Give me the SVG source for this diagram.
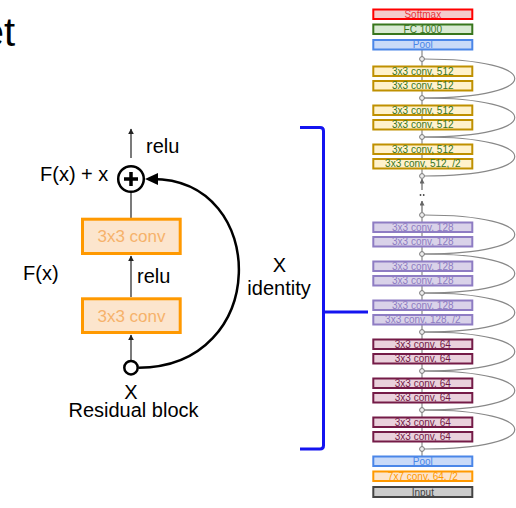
<svg xmlns="http://www.w3.org/2000/svg" width="516" height="508" viewBox="0 0 516 508">
<defs>
<marker id="ah" viewBox="0 0 10 10" refX="9" refY="5" markerWidth="6" markerHeight="6" orient="auto" markerUnits="userSpaceOnUse"><path d="M0,0 L10,5 L0,10 z" fill="#222"/></marker>
<marker id="ahg" viewBox="0 0 10 10" refX="9" refY="5" markerWidth="5" markerHeight="5" orient="auto" markerUnits="userSpaceOnUse"><path d="M0,0 L10,5 L0,10 z" fill="#666"/></marker>
<style>
text{font-family:"Liberation Sans",Arial,sans-serif}
.lbl{font-size:20px;fill:#000}
.cv{fill:#fce5cd;stroke:#ff9900;stroke-width:3}
.cvt{font-size:17px;fill:#f6b26b;text-anchor:middle}
.ln{stroke:#222;stroke-width:1.2;fill:none}
.bx{stroke-width:2}
.bt{font-size:10px;text-anchor:middle}
.sk{fill:none;stroke:#888;stroke-width:1.2}
.nd{fill:#eee;stroke:#777;stroke-width:1}
.c512{fill:#fff2cc;stroke:#bf9000}
.t512{fill:#38761d}
.c128{fill:#d9d2e9;stroke:#8e7cc3}
.t128{fill:#8e7cc3}
.c64{fill:#ead1dc;stroke:#741b47}
.t64{fill:#741b47}
.cpool{fill:#c9daf8;stroke:#4a86e8}
.tpool{fill:#4a86e8}
</style>
</defs>
<rect width="516" height="508" fill="#fff"/>
<text x="15" y="45.5" font-size="40" text-anchor="end" fill="#000">et</text>

<g id="connectors">
<line class="ln" x1="131" y1="158" x2="131" y2="129" marker-end="url(#ah)"/>
<line class="ln" x1="131" y1="192" x2="131" y2="218"/>
<line class="ln" x1="131" y1="297" x2="131" y2="256" marker-end="url(#ah)"/>
<line class="ln" x1="131" y1="360" x2="131" y2="335" marker-end="url(#ah)"/>
<path d="M138.5,367.7 C270,367.7 270,179 152,179" fill="none" stroke="#000" stroke-width="2.5"/>
<polygon points="145,179 158,173 158,185" fill="#000"/>
<path d="M300,127.5 L320,127.5 Q323.5,127.5 323.5,131 L323.5,445.5 Q323.5,449 320,449 L300,449 M323.5,312 L368,312" fill="none" stroke="#1414f0" stroke-width="3"/>
<line x1="422" y1="50" x2="422" y2="176" stroke="#888" stroke-width="1.2"/>
<line x1="422" y1="215" x2="422" y2="456" stroke="#888" stroke-width="1.2"/>
<line x1="422" y1="190" x2="422" y2="179" stroke="#666" stroke-width="1.2" marker-end="url(#ahg)"/>
<line x1="422" y1="212.5" x2="422" y2="201" stroke="#666" stroke-width="1.2" marker-end="url(#ahg)"/>
<circle cx="420.5" cy="195" r="0.9" fill="#444"/>
<circle cx="423.7" cy="195" r="0.9" fill="#444"/>
<path class="sk" d="M424,59 C545,59 545,98 424,98"/>
<path class="sk" d="M424,98 C545,98 545,137 424,137"/>
<path class="sk" d="M424,137 C545,137 545,176 424,176"/>
<path class="sk" d="M424,215 C545,215 545,254 424,254"/>
<path class="sk" d="M424,254 C545,254 545,293 424,293"/>
<path class="sk" d="M424,293 C545,293 545,332 424,332"/>
<path class="sk" d="M424,332 C545,332 545,371 424,371"/>
<path class="sk" d="M424,371 C545,371 545,410 424,410"/>
<path class="sk" d="M424,410 C545,410 545,449 424,449"/>
</g>

<g id="residual-block">
<g id="plus"><circle cx="131" cy="179" r="12.8" fill="#fff" stroke="#000" stroke-width="2.5"/><path d="M124,179 H138 M131,172 V186" stroke="#000" stroke-width="3.5"/></g>
<g id="conv1"><rect class="cv" x="82.5" y="219.2" width="97.7" height="34.3"/><text class="cvt" x="131.5" y="242">3x3 conv</text></g>
<g id="conv2"><rect class="cv" x="82.5" y="298.8" width="97.7" height="33.7"/><text class="cvt" x="131.5" y="321.5">3x3 conv</text></g>
<g id="input-x"><circle cx="131" cy="367.7" r="6.7" fill="#fff" stroke="#000" stroke-width="2.5"/></g>
<text class="lbl" x="146" y="153">relu</text>
<text class="lbl" x="40" y="181">F(x) + x</text>
<text class="lbl" x="23" y="280">F(x)</text>
<text class="lbl" x="137" y="283">relu</text>
<text class="lbl" x="131" y="399" text-anchor="middle" font-size="18">X</text>
<text class="lbl" x="133.5" y="416.7" text-anchor="middle">Residual block</text>
<text class="lbl" x="279.5" y="271.7" text-anchor="middle" font-size="18">X</text>
<text class="lbl" x="279" y="295" text-anchor="middle">identity</text>
</g>

<g id="stack">
<g id="softmax"><rect class="bx" x="373.3" y="9.5" width="99" height="9.5" fill="#f4cccc" stroke="#ff0000" stroke-width="2.4"/><text class="bt" x="422.8" y="17.8" fill="#e8343a">Softmax</text></g>
<g id="fc"><rect class="bx" x="373.3" y="24.5" width="99" height="9.5" fill="#d9ead3" stroke="#38761d" stroke-width="2.4"/><text class="bt" x="422.8" y="32.8" fill="#38761d">FC 1000</text></g>
<g id="pool-top"><rect class="bx cpool" x="373.3" y="40" width="99" height="9.5"/><text class="bt tpool" x="422.8" y="48.3">Pool</text></g>

<g id="c512-1"><rect class="bx c512" x="373.3" y="66.5" width="99" height="9.5"/><text class="bt t512" x="422.8" y="74.8">3x3 conv, 512</text></g>
<g id="c512-2"><rect class="bx c512" x="373.3" y="81" width="99" height="9.5"/><text class="bt t512" x="422.8" y="89.3">3x3 conv, 512</text></g>
<g id="c512-3"><rect class="bx c512" x="373.3" y="105.5" width="99" height="9.5"/><text class="bt t512" x="422.8" y="113.8">3x3 conv, 512</text></g>
<g id="c512-4"><rect class="bx c512" x="373.3" y="120" width="99" height="9.5"/><text class="bt t512" x="422.8" y="128.3">3x3 conv, 512</text></g>
<g id="c512-5"><rect class="bx c512" x="373.3" y="144.5" width="99" height="9.5"/><text class="bt t512" x="422.8" y="152.8">3x3 conv, 512</text></g>
<g id="c512-6"><rect class="bx c512" x="373.3" y="159" width="99" height="9.5"/><text class="bt t512" x="422.8" y="167.3">3x3 conv, 512, /2</text></g>

<g id="c128-1"><rect class="bx c128" x="373.3" y="222.5" width="99" height="9.5"/><text class="bt t128" x="422.8" y="230.8">3x3 conv, 128</text></g>
<g id="c128-2"><rect class="bx c128" x="373.3" y="237" width="99" height="9.5"/><text class="bt t128" x="422.8" y="245.3">3x3 conv, 128</text></g>
<g id="c128-3"><rect class="bx c128" x="373.3" y="261.5" width="99" height="9.5"/><text class="bt t128" x="422.8" y="269.8">3x3 conv, 128</text></g>
<g id="c128-4"><rect class="bx c128" x="373.3" y="276" width="99" height="9.5"/><text class="bt t128" x="422.8" y="284.3">3x3 conv, 128</text></g>
<g id="c128-5"><rect class="bx c128" x="373.3" y="300.5" width="99" height="9.5"/><text class="bt t128" x="422.8" y="308.8">3x3 conv, 128</text></g>
<g id="c128-6"><rect class="bx c128" x="373.3" y="315" width="99" height="9.5"/><text class="bt t128" x="422.8" y="323.3">3x3 conv, 128, /2</text></g>

<g id="c64-1"><rect class="bx c64" x="373.3" y="339.5" width="99" height="9.5"/><text class="bt t64" x="422.8" y="347.8">3x3 conv, 64</text></g>
<g id="c64-2"><rect class="bx c64" x="373.3" y="354" width="99" height="9.5"/><text class="bt t64" x="422.8" y="362.3">3x3 conv, 64</text></g>
<g id="c64-3"><rect class="bx c64" x="373.3" y="378.5" width="99" height="9.5"/><text class="bt t64" x="422.8" y="386.8">3x3 conv, 64</text></g>
<g id="c64-4"><rect class="bx c64" x="373.3" y="393" width="99" height="9.5"/><text class="bt t64" x="422.8" y="401.3">3x3 conv, 64</text></g>
<g id="c64-5"><rect class="bx c64" x="373.3" y="417.5" width="99" height="9.5"/><text class="bt t64" x="422.8" y="425.8">3x3 conv, 64</text></g>
<g id="c64-6"><rect class="bx c64" x="373.3" y="432" width="99" height="9.5"/><text class="bt t64" x="422.8" y="440.3">3x3 conv, 64</text></g>

<g id="pool-bottom"><rect class="bx cpool" x="373.3" y="456.5" width="99" height="9.5"/><text class="bt tpool" x="422.8" y="464.8">Pool</text></g>
<g id="conv7"><rect class="bx" x="373.3" y="471.5" width="99" height="9.5" fill="#fce5cd" stroke="#ff9900"/><text class="bt" x="422.8" y="479.8" fill="#ff9900">7x7 conv, 64, /2</text></g>
<g id="input"><rect class="bx" x="373.3" y="487" width="99" height="10" fill="#cccccc" stroke="#434343" stroke-width="2.6"/><text class="bt" x="422.8" y="495.5" fill="#434343">Input</text></g>

<g id="nodes">
<circle class="nd" cx="422" cy="59" r="2.4"/>
<circle class="nd" cx="422" cy="98" r="2.4"/>
<circle class="nd" cx="422" cy="137" r="2.4"/>
<circle class="nd" cx="422" cy="176" r="2.4"/>
<circle class="nd" cx="422" cy="215" r="2.4"/>
<circle class="nd" cx="422" cy="254" r="2.4"/>
<circle class="nd" cx="422" cy="293" r="2.4"/>
<circle class="nd" cx="422" cy="332" r="2.4"/>
<circle class="nd" cx="422" cy="371" r="2.4"/>
<circle class="nd" cx="422" cy="410" r="2.4"/>
<circle class="nd" cx="422" cy="449" r="2.4"/>
</g>
</g>
</svg>
